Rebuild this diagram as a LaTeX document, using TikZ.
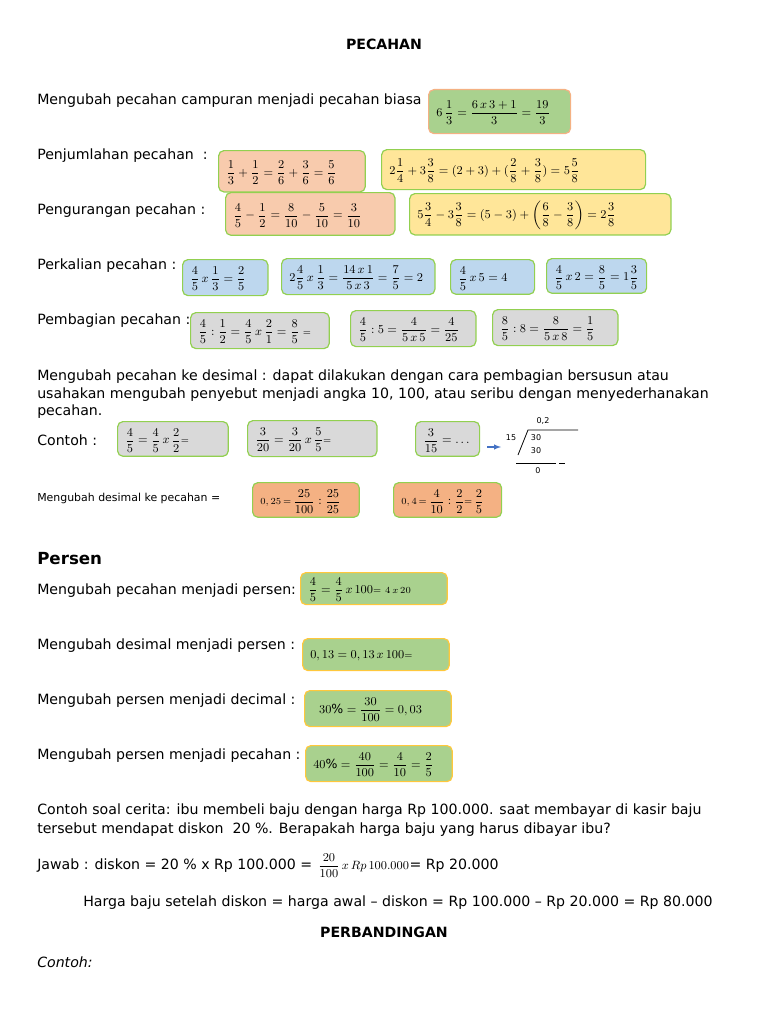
\documentclass[tikz,border=0pt]{standalone}
\usepackage{amsmath}
\usepackage{fontspec}
\setmainfont{DejaVu Sans}
\definecolor{gfill}{RGB}{169,209,142}
\definecolor{pfill}{RGB}{248,203,173}
\definecolor{yfill}{RGB}{255,230,153}
\definecolor{bfill}{RGB}{189,215,238}
\definecolor{grfill}{RGB}{217,217,217}
\definecolor{ofill}{RGB}{244,177,131}
\definecolor{gline}{RGB}{146,208,80}
\definecolor{oline}{RGB}{244,177,131}
\definecolor{yline}{RGB}{255,200,60}
\tikzset{boxst/.style={rounded corners=4pt,line width=0.9pt,inner sep=0,anchor=north west}}
\newcommand{\mybx}[7]{\node[boxst,fill=#5,draw=#6,minimum width=#3,minimum height=#4] (#1) at #2 {};
 \node[mth,xshift=6pt,yshift=-1pt] (#1t) at (#1.west) {$\displaystyle #7$};}
\begin{document}
\begin{tikzpicture}[x=0.75pt,y=-0.75pt,
 txt/.style={anchor=west,font=\fontsize{10.6}{13}\selectfont,inner sep=0},
 mth/.style={anchor=west,inner sep=0,font=\fontsize{9.4}{11}\selectfont}]
\useasboundingbox (0,0) rectangle (768,1024);
\node[font=\bfseries\fontsize{10.6}{13}\selectfont] (t1) at (384,44) {PECAHAN};
\node[txt] (a1) at (37,101) {Mengubah pecahan campuran menjadi pecahan biasa};
\mybx{b1}{(428,89)}{106.5pt}{33pt}{gfill}{oline}{6\,\frac13=\frac{6\,x\,3+1}{3}=\frac{19}{3}}
\node[txt] (a2) at (37,156) {Penjumlahan pecahan\ \ :};
\mybx{b2}{(218,150)}{110pt}{31pt}{pfill}{gline}{\frac13+\frac12=\frac26+\frac36=\frac56}
\mybx{b3}{(381,149)}{198pt}{30pt}{yfill}{gline}{2\frac14+3\frac38=(2+3)+(\frac28+\frac38)=5\frac58}
\node[txt] (a3) at (37,211) {Pengurangan pecahan :};
\mybx{b4}{(225,192)}{127pt}{32pt}{pfill}{gline}{\frac45-\frac12=\frac8{10}-\frac5{10}=\frac3{10}}
\mybx{b5}{(409,193)}{196pt}{31pt}{yfill}{gline}{5\frac34-3\frac38=(5-3)+\left(\frac68-\frac38\right)=2\frac38}
\node[txt] (a4) at (37,266) {Perkalian pecahan :};
\mybx{b6}{(182,259)}{64pt}{27pt}{bfill}{gline}{\frac45\,x\,\frac13=\frac25}
\mybx{b7}{(281,258)}{115pt}{27pt}{bfill}{gline}{2\frac45\,x\,\frac13=\frac{14\,x\,1}{5\,x\,3}=\frac75=2}
\mybx{b8}{(450,259)}{63pt}{26pt}{bfill}{gline}{\frac45\,x\,5=4}
\mybx{b9}{(546,258)}{75pt}{26pt}{bfill}{gline}{\frac45\,x\,2=\frac85=1\frac35}
\node[txt] (a5) at (37,321) {Pembagian pecahan :};
\mybx{b10}{(190,312)}{104pt}{27pt}{grfill}{gline}{\frac45:\frac12=\frac45\,x\,\frac21=\frac85\;{\scriptstyle=}}
\mybx{b11}{(350,310)}{94pt}{27pt}{grfill}{gline}{\frac45:5=\frac4{5\,x\,5}=\frac4{25}}
\mybx{b12}{(492,309)}{94pt}{27pt}{grfill}{gline}{\frac85:8=\frac8{5\,x\,8}=\frac15}
\node[txt] (p1) at (37,377) {Mengubah pecahan ke desimal : dapat dilakukan dengan cara pembagian bersusun atau};
\node[txt] (p2) at (37,395) {usahakan mengubah penyebut menjadi angka 10, 100, atau seribu dengan menyederhanakan};
\node[txt] (p3) at (37,412) {pecahan.};
\node[txt] (c1) at (37,440) {Contoh :};
\mybx{b13}{(117,421)}{83pt}{26pt}{grfill}{gline}{\frac45=\frac45\,x\,\frac22{\scriptstyle=}}
\mybx{b14}{(247,420)}{97pt}{27pt}{grfill}{gline}{\frac3{20}=\frac3{20}\,x\,\frac55{\scriptstyle=}}
\mybx{b15}{(415,421)}{48pt}{26pt}{grfill}{gline}{\frac3{15}=\dots}
\coordinate (as) at (487,447);
\coordinate (ar) at (501,447);
\draw[-latex,draw={rgb,255:red,68;green,114;blue,196},line width=0.8pt] (as) -- (ar);
\begin{scope}[font=\fontsize{6}{7}\selectfont]
\node (d15) at (511,438) {15};
\node (d02) at (543,421) {0,2};
\node (d30a) at (536,438) {30};
\node (d30b) at (536,451) {30};
\node (d0) at (538,471) {0};
\draw[line width=0.6pt] (518,455) -- (528,430) -- (578,430);
\draw[line width=0.6pt] (516,463) -- (556,463) (559,463) -- (565,463);
\end{scope}
\node[txt,font=\fontsize{8.2}{10}\selectfont] (c2) at (37,498) {Mengubah desimal ke pecahan =};
\mybx{b16}{(252,482)}{80pt}{26pt}{ofill}{gline}{{\scriptstyle 0,\,25\,=}\,\frac{25}{100}:\frac{25}{25}}
\mybx{b17}{(393,482)}{81pt}{26pt}{ofill}{gline}{{\scriptstyle 0,\,4\,=}\,\frac4{10}:\frac22{\scriptstyle=}\,\frac25}
\node[txt,font=\bfseries\fontsize{12.5}{15}\selectfont] (h2) at (37,559) {Persen};
\node[txt] (q1) at (37,591) {Mengubah pecahan menjadi persen:};
\mybx{b18}{(300,572)}{110pt}{24pt}{gfill}{yline}{\frac45=\frac45\,x\,100{\scriptstyle=\ 4\,x\,20}}
\node[txt] (q2) at (37,646) {Mengubah desimal menjadi persen :};
\mybx{b19}{(302,638)}{110pt}{24pt}{gfill}{yline}{0,13=0,13\,x\,100{\scriptstyle=}}
\node[txt] (q3) at (37,701) {Mengubah persen menjadi decimal :};
\mybx{b20}{(304,690)}{110pt}{27pt}{gfill}{yline}{\;\;30\%=\frac{30}{100}=0,03}
\node[txt] (q4) at (37,756) {Mengubah persen menjadi pecahan :};
\mybx{b21}{(305,745)}{110pt}{27pt}{gfill}{yline}{40\%=\frac{40}{100}=\frac4{10}=\frac25}
\node[txt] (s1) at (37,811) {Contoh soal cerita: ibu membeli baju dengan harga Rp 100.000. saat membayar di kasir baju};
\node[txt] (s2) at (37,830) {tersebut mendapat diskon\ \ 20 \%. Berapakah harga baju yang harus dibayar ibu?};
\node[txt] (j1) at (37,866) {Jawab : diskon = 20 \% x Rp 100.000 =};
\node[mth,xshift=4pt] (j2) at (j1.east) {$\displaystyle\frac{20}{100}\,x\,Rp\,100.000$};
\node[txt] (j3) at (j2.east) {= Rp 20.000};
\node[txt] (h1) at (83,903) {Harga baju setelah diskon = harga awal – diskon = Rp 100.000 – Rp 20.000 = Rp 80.000};
\node[font=\bfseries\fontsize{10.6}{13}\selectfont] (t2) at (384,932) {PERBANDINGAN};
\node[txt,font=\itshape\fontsize{10.6}{13}\selectfont] (k1) at (37,962) {Contoh:};
\end{tikzpicture}
\end{document}
